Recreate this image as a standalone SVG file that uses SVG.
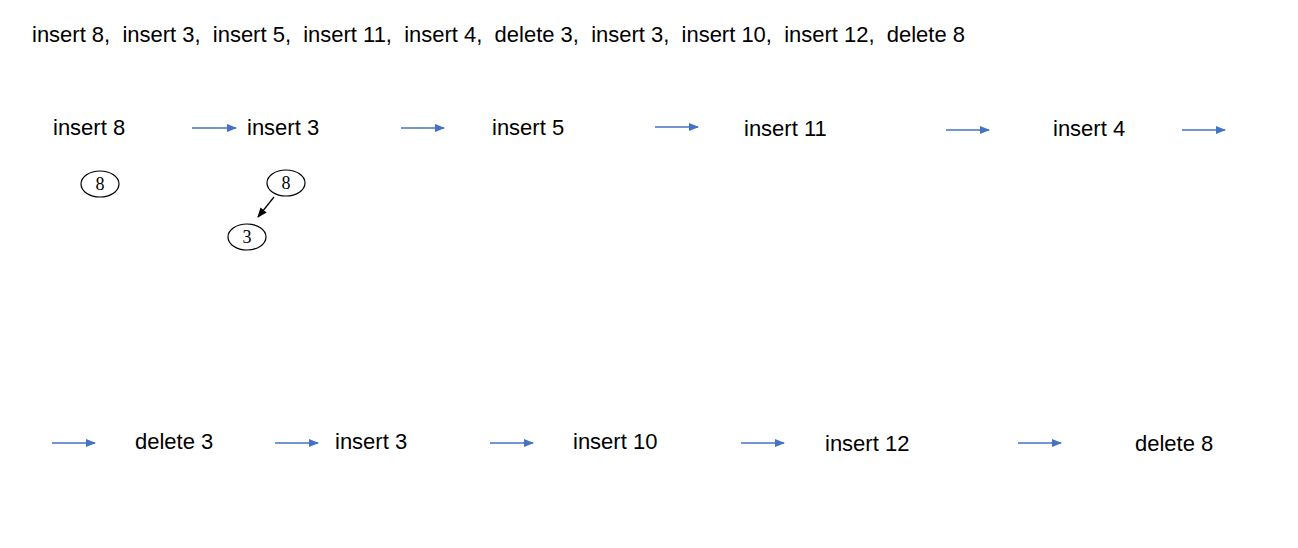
<svg xmlns="http://www.w3.org/2000/svg" width="1298" height="548" viewBox="0 0 1298 548">
<style>
.lbl{font-family:"Liberation Sans",Arial,sans-serif;font-size:22px;fill:#000;white-space:pre}
.arr{stroke:#4472C4;stroke-width:1.5;fill:none;marker-end:url(#ba)}
.nd{fill:#fff;stroke:#000;stroke-width:1.2}
.nt{font-family:"Liberation Serif","Times New Roman",serif;font-size:18px;fill:#000;text-anchor:middle}
.edge{stroke:#000;stroke-width:1.3;fill:none;marker-end:url(#ka)}
</style>
<defs>
<marker id="ba" markerWidth="10" markerHeight="8" refX="9" refY="4" orient="auto" markerUnits="userSpaceOnUse"><path d="M0,0 L10,4 L0,8 Z" fill="#4472C4"/></marker>
<marker id="ka" markerWidth="10" markerHeight="8" refX="9" refY="4" orient="auto" markerUnits="userSpaceOnUse"><path d="M0,0 L10,4 L0,8 Z" fill="#000"/></marker>
</defs>
<rect width="1298" height="548" fill="#fff"/>
<text id="header" class="lbl" x="32" y="42" textLength="933" lengthAdjust="spacingAndGlyphs">insert 8,  insert 3,  insert 5,  insert 11,  insert 4,  delete 3,  insert 3,  insert 10,  insert 12,  delete 8</text>
<g id="step-insert8"><text class="lbl" x="53" y="135">insert 8</text></g>
<g id="step-insert3a"><text class="lbl" x="247" y="135">insert 3</text></g>
<g id="step-insert5"><text class="lbl" x="492" y="135">insert 5</text></g>
<g id="step-insert11"><text class="lbl" x="744" y="136">insert 11</text></g>
<g id="step-insert4"><text class="lbl" x="1053" y="136">insert 4</text></g>
<g id="step-delete3"><text class="lbl" x="135" y="449">delete 3</text></g>
<g id="step-insert3b"><text class="lbl" x="335" y="449">insert 3</text></g>
<g id="step-insert10"><text class="lbl" x="573" y="449">insert 10</text></g>
<g id="step-insert12"><text class="lbl" x="825" y="451">insert 12</text></g>
<g id="step-delete8"><text class="lbl" x="1135" y="451">delete 8</text></g>
<g id="node-8a"><ellipse class="nd" cx="100" cy="184" rx="19" ry="13"/><text class="nt" x="100" y="190">8</text></g>
<g id="node-8b"><ellipse class="nd" cx="286" cy="183" rx="19" ry="13"/><text class="nt" x="286" y="189">8</text></g>
<g id="node-3"><ellipse class="nd" cx="247" cy="237" rx="19" ry="13"/><text class="nt" x="247" y="243">3</text></g>
<g id="connectors">
<line class="arr" x1="192" y1="128" x2="236" y2="128"/>
<line class="arr" x1="401" y1="128" x2="444" y2="128"/>
<line class="arr" x1="655" y1="127" x2="698" y2="127"/>
<line class="arr" x1="946" y1="130" x2="989" y2="130"/>
<line class="arr" x1="1182" y1="130" x2="1225" y2="130"/>
<line class="arr" x1="52" y1="443" x2="95" y2="443"/>
<line class="arr" x1="275" y1="443" x2="318" y2="443"/>
<line class="arr" x1="490" y1="443" x2="533" y2="443"/>
<line class="arr" x1="741" y1="443" x2="784" y2="443"/>
<line class="arr" x1="1018" y1="443" x2="1061" y2="443"/>
<line class="edge" x1="274" y1="197" x2="258" y2="217"/>
</g>
</svg>
